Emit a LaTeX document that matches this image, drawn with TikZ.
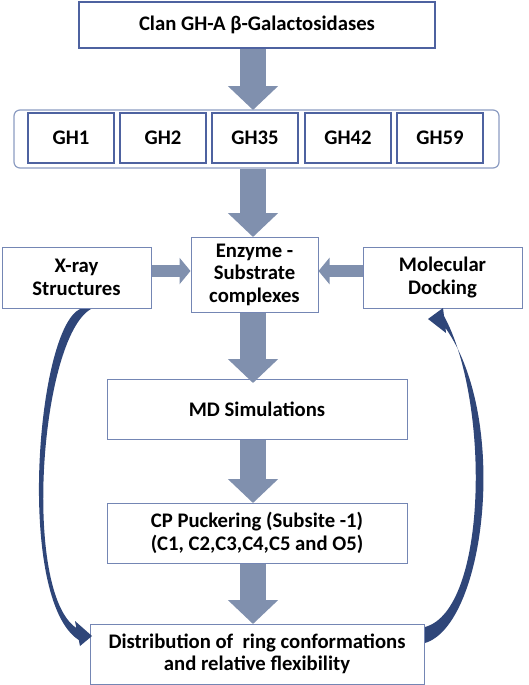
\documentclass[tikz,border=0pt]{standalone}
\usepackage{fontspec}
\setmainfont{Carlito}
\usetikzlibrary{arrows.meta}
\definecolor{boxline}{HTML}{4E62A0}
\definecolor{boxlight}{HTML}{7486B4}
\definecolor{grpline}{HTML}{8C9CC2}
\definecolor{blockc}{HTML}{8090AE}
\definecolor{curvec}{HTML}{2F4679}
\tikzset{
  every node/.style={font=\fontsize{20.7}{22.5}\selectfont\bfseries, text=black, align=center, inner sep=0pt},
  darkbox/.style={draw=boxline, line width=1.4pt, fill=white},
  lightbox/.style={draw=boxlight, line width=1pt, fill=white},
  grpbox/.style={draw=grpline, line width=1.2pt, rounded corners=6pt, fill=white},
  varrow/.style={draw=blockc, line width=26pt, -{Triangle[width=49pt,length=24pt]}},
  harrow/.style={draw=blockc, line width=12pt, -{Triangle[width=26pt,length=11pt]}},
  curvearrow/.style={fill=curvec, draw=none}
}
\begin{document}
\begin{tikzpicture}[x=1pt,y=-1pt]
\useasboundingbox (0,0) rectangle (528,685);
% boxes
\node[darkbox, minimum width=356pt, minimum height=46pt] (top) at (257,25) {Clan GH-A β-Galactosidases};
\node[grpbox, minimum width=485pt, minimum height=58pt] (grp) at (256.5,139) {};
\node[darkbox, minimum width=86pt, minimum height=50pt] (gh1) at (71,138) {GH1};
\node[darkbox, minimum width=86pt, minimum height=50pt] (gh2) at (163,138) {GH2};
\node[darkbox, minimum width=86pt, minimum height=50pt] (gh35) at (255,138) {GH35};
\node[darkbox, minimum width=86pt, minimum height=50pt] (gh42) at (348,138) {GH42};
\node[darkbox, minimum width=86pt, minimum height=50pt] (gh59) at (440,138) {GH59};
\node[lightbox, minimum width=127pt, minimum height=75pt] (enz) at (254.5,274.5) {Enzyme -\\Substrate\\complexes};
\node[lightbox, minimum width=149pt, minimum height=61pt] (xray) at (76.5,277.5) {X-ray\\Structures};
\node[lightbox, minimum width=159pt, minimum height=61pt] (dock) at (442.5,277.5) {Molecular\\Docking};
\node[lightbox, minimum width=300pt, minimum height=60pt] (md) at (257,409) {MD Simulations};
\node[lightbox, minimum width=300pt, minimum height=60pt] (cp) at (257,533) {CP Puckering (Subsite -1)\\(C1, C2,C3,C4,C5 and O5)};
\node[lightbox, minimum width=334pt, minimum height=60pt] (dist) at (257,654) {Distribution of\ \ ring conformations\\and relative flexibility};
% block arrows
\draw[varrow] (top.south -| 253,0) -- (253,110);
\draw[varrow] (grp.south -| 253,0) -- (253,237);
\draw[varrow] (enz.south -| 253,0) -- (253,383);
\draw[varrow] (md.south -| 253,0) -- (253,503);
\draw[varrow] (cp.south -| 253,0) -- (253,624);
\draw[harrow] (xray.east |- 0,271) -- (enz.west |- 0,271);
\draw[harrow] (dock.west |- 0,271) -- (enz.east |- 0,271);
% curved arrows
\fill[curvearrow] (80,309) .. controls (36,330) and (16,600) .. (78.8,640) -- (80,646) -- (92,636) -- (75,621) -- (76.4,628) .. controls (22,592) and (40,338) .. (91,309) -- cycle;
\fill[curvearrow] (425,643) .. controls (485,625) and (510,420) .. (445.5,328) -- (446,333) -- (428,319) -- (443,308) -- (444,316) .. controls (490,400) and (488,610) .. (425,627) -- cycle;
\end{tikzpicture}
\end{document}
